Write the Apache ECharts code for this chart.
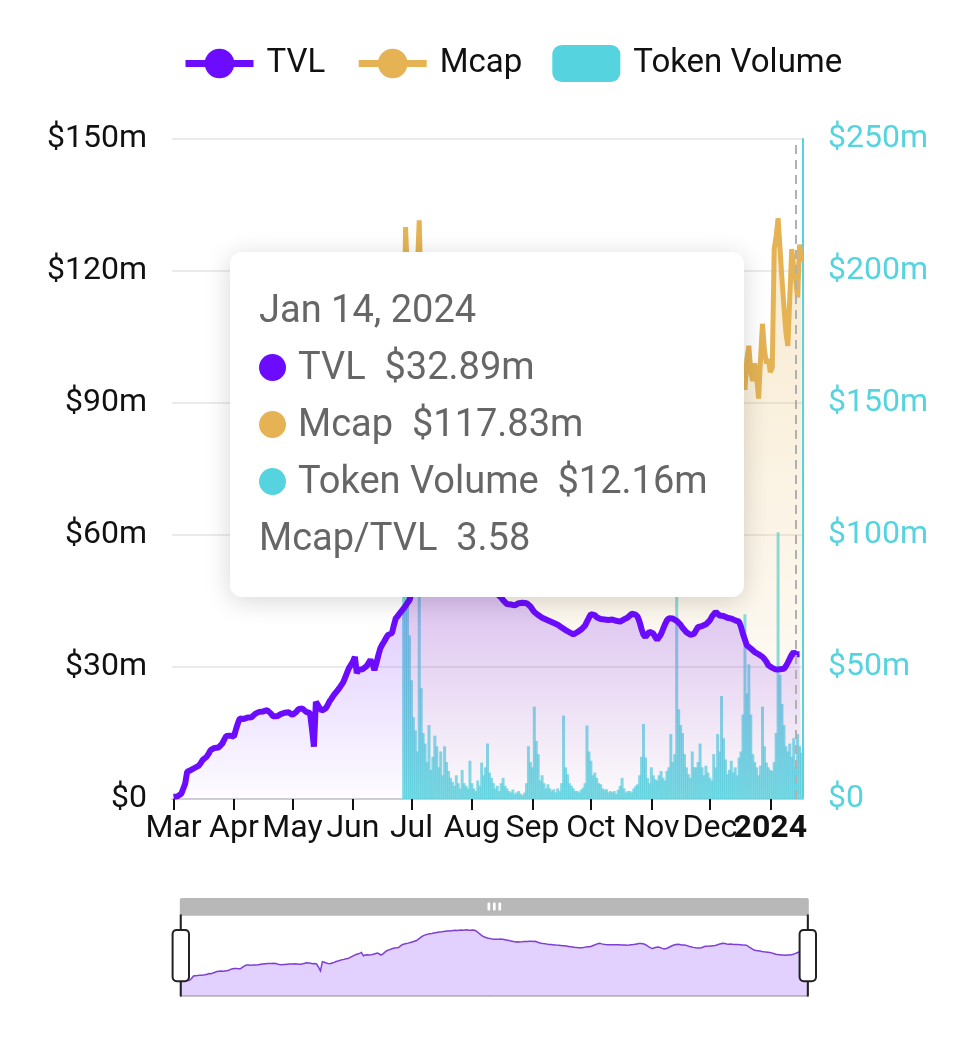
<!DOCTYPE html>
<html>
<head>
<meta charset="utf-8">
<script src="https://cdn.jsdelivr.net/npm/echarts@6/dist/echarts.min.js"></script>
<style>
html,body{margin:0;padding:0;background:#fff;}
#chart{width:973px;height:1038px;}
</style>
</head>
<body>
<div id="chart"></div>
<script>
// ---- data (values in $ millions) ----
const startYear = 2023, startMonth = 2, startDay = 1;   // Mar 1, 2023 = first day
const tokenStartIndex = 118;                              // Jun 27, 2023 = first token day
const tooltipIndex = 319;                                 // Jan 14, 2024
const seriesNames = ['TVL', 'Mcap', 'Token Volume'];
const leftTickLabels = ['$0', '$30m', '$60m', '$90m', '$120m', '$150m'];
const rightTickLabels = ['$0', '$50m', '$100m', '$150m', '$200m', '$250m'];
const monthNames = ['Jan','Feb','Mar','Apr','May','Jun','Jul','Aug','Sep','Oct','Nov','Dec'];

const tvl = [
0.5,0.5,0.6,0.9,1.2,1.4,3.5,6.2,6.4,6.6,
6.9,7.1,7.3,7.6,8.2,8.9,8.7,9.6,10.3,11.1,
11.5,11.6,11.4,11.7,11.9,12.6,13.5,14.3,14.5,14.4,
14.3,14.2,15.8,17.2,18.3,18.4,18.2,18.3,18.5,18.3,
18.6,19.0,19.4,19.6,19.8,20.0,19.9,20.1,20.2,20.1,
19.4,18.8,18.6,18.8,19.0,19.3,19.5,19.6,19.5,19.7,
19.4,19.1,19.3,19.8,20.4,20.8,20.6,20.3,19.8,19.9,
19.5,16.0,11.9,22.1,21.4,20.6,20.1,19.8,20.6,21.3,
22.2,22.8,23.5,24.1,24.6,25.2,25.6,26.5,27.6,28.7,
29.8,30.5,31.2,32.3,28.6,29.4,29.8,29.5,29.7,30.2,
30.9,31.6,30.8,29.3,30.8,32.6,34.2,35.1,35.8,36.6,
37.3,37.4,37.7,39.5,41.1,41.6,42.2,42.6,43.3,43.9,
44.6,45.2,46.8,48.5,50.1,51.2,52.0,52.6,53.1,53.4,
53.8,54.2,54.6,55.0,55.1,55.4,55.8,56.1,56.0,56.3,
56.6,56.8,56.7,57.0,57.2,56.9,57.1,57.3,57.0,56.8,
57.1,56.9,55.6,53.8,52.0,50.3,49.4,48.6,48.0,47.6,
47.2,47.0,46.8,46.9,47.1,46.9,46.6,46.2,45.8,45.2,
44.8,44.3,43.9,44.2,43.8,44.0,44.3,44.5,44.4,44.6,
44.7,44.5,44.6,43.8,43.1,42.5,42.1,41.8,41.5,41.2,
41.0,40.8,40.6,40.4,40.2,40.0,39.8,39.6,39.3,39.0,
38.7,38.4,38.1,37.9,37.6,37.4,37.6,37.9,38.2,38.5,
38.7,39.4,40.3,41.2,42.0,42.4,41.8,41.3,41.0,40.9,
40.9,40.8,40.8,40.7,40.8,40.8,40.6,40.5,40.4,40.3,
40.5,40.8,41.0,41.3,41.7,42.1,42.3,41.9,41.4,40.2,
38.6,37.3,36.8,37.4,38.0,38.4,37.6,36.8,36.2,36.6,
37.5,38.6,39.7,40.6,41.1,41.4,41.0,40.6,40.5,40.3,
39.6,38.9,38.4,37.9,37.5,37.3,37.2,37.6,38.4,39.1,
39.2,39.3,39.5,39.7,39.9,40.6,41.4,42.0,42.5,42.2,
41.7,41.4,41.6,41.3,41.2,41.2,41.0,40.8,40.6,40.4,
40.3,39.1,37.5,36.2,34.9,34.5,34.2,33.8,33.4,33.1,
32.9,32.6,32.3,31.8,31.2,30.4,30.1,29.8,29.5,29.4,
29.3,29.5,29.4,29.6,30.2,31.0,31.9,32.8,33.4,32.89,
33.1,32.9,32.9
];

const mcap = [
100,130,118,110,114,118,116,120,131.5,112,
103,100,98,101,97,94,92,95,91,88,
86,89,87,84,82,85,83,80,78,81,
79,77,75,78,74,72,70,73,71,69,
68,70,67,66,69,68,65,64,66,67,
65,63,64,66,65,62,61,63,64,62,
60,61,63,62,66,68,65,63,62,60,
59,60,58,57,59,58,56,57,58,56,
55,57,60,58,56,55,54,56,57,55,
56,58,57,60,63,61,59,60,62,61,
60,59,61,60,58,59,60,58,57,59,
60,61,62,60,59,61,63,62,60,59,
60,62,64,66,63,62,61,63,62,60,
61,63,65,64,66,68,67,69,70,72,
76,73,71,70,72,71,69,70,72,74,
73,75,76,74,75,77,76,78,80,79,
81,83,82,80,81,83,84,82,84,85,
86,84,88,93,97,93,100,103,97,95,
99,96,91,100,108,102,99,100,97,98,
125,128,132,125,118,112,106,103,114,125,
121,117.83,114,126,122
];

const tokenVolume = [
200,160,120,62,45,31,26,18,92,42,
25,21,14,28,11,16,24,20,12,18,
9,20,14,10.6,8,6.5,5,9,6,4,
11,6,5,4,14.5,6,4,3,7,5,
13.8,9,12,21,10,8,6,4,5,3,
6,8,5,4,3,2.5,3.6,2,2.5,3,
2,1.5,2.4,6,20,14,12,35,22,17,
7,9,6,4,5.6,4,3,3.7,2.5,4,
3,6,31.6,12,9.4,6,5,4,3,3,
2.5,3.5,4.3,6,27.8,18,14.5,9,10,8,
6,5.6,4,3.5,3.7,2.5,3,2.5,3,2,
3.5,5,8,4,2.5,3,3,2.5,4,5,
5.6,9,16,28.4,15.7,8,6,12,9,7.5,
7,9,10.6,8,7,10.6,12,24.6,14,17,
80,34,28,25,17,12,9.4,8,18,12,
12,14,21,12,9,12.6,10,8,7,17,
12,24.6,18,39,23,15,9.4,11,14.5,10,
12,9,15.7,18,32,70,40,51,32,17,
14,12,9,12.6,35,20,13.8,12,11,10.6,
14,25,101,47,36,28,20,18,21,16,
23,12.16,24.6,20,17.6
];

// ---- build ----
const colors = { tvl: '#6b0cff', mcap: '#e5b354', vol: '#55d4e0' };
const dates = tvl.map((_, i) => new Date(startYear, startMonth, startDay + i).getTime());
const tvlData = tvl.map((v, i) => [dates[i], v]);
const mcapData = mcap.map((v, i) => [dates[tokenStartIndex + i], v]);
const volData = tokenVolume.map((v, i) => [dates[tokenStartIndex + i], v]);
const FONT = 'Roboto';

function nearestIndex(t) {
  let best = 0, bd = Infinity;
  for (let i = 0; i < dates.length; i++) { const d = Math.abs(dates[i] - t); if (d < bd) { bd = d; best = i; } }
  return best;
}
function dot(c) {
  return '<span style="display:inline-block;width:27px;height:27px;border-radius:50%;background:' + c + ';margin-right:12px;vertical-align:-2px"></span>';
}

const chart = echarts.init(document.getElementById('chart'), null, { renderer: 'canvas' });
chart.setOption({
  animation: false,
  backgroundColor: '#fff',
  textStyle: { fontFamily: FONT },
  legend: {
    left: 177, top: 40,
    itemWidth: 68, itemHeight: 37, itemGap: 30,
    textStyle: { fontFamily: FONT, fontSize: 33, color: '#111', padding: [0, 0, 0, 8] },
    data: [
      { name: seriesNames[0], lineStyle: { width: 7 } },
      { name: seriesNames[1], lineStyle: { width: 7 } },
      { name: seriesNames[2], itemStyle: { color: colors.vol, opacity: 1 } }
    ]
  },
  grid: { left: 172, right: 170, top: 139, bottom: 239, containLabel: false },
  tooltip: {
    trigger: 'axis',
    triggerOn: 'none',
    alwaysShowContent: true,
    transitionDuration: 0,
    position: [230, 252],
    backgroundColor: '#fff',
    borderWidth: 0,
    padding: [29, 36, 31, 29],
    extraCssText: 'border-radius:12px;box-shadow:0 4px 26px rgba(0,0,0,0.16);',
    axisPointer: {
      type: 'line',
      lineStyle: { color: '#b0b0b0', type: [9, 6], width: 2 },
      label: { show: false }
    },
    formatter: function (params) {
      const i = nearestIndex(params[0].axisValue);
      const d = new Date(dates[i]);
      const j = i - tokenStartIndex;
      const tv = tvl[i], mc = mcap[j], vo = tokenVolume[j];
      const row = s => '<div style="white-space:nowrap">' + s + '</div>';
      return '<div style="font-family:Roboto;font-size:38px;line-height:57px;color:#666;">' +
        row(monthNames[d.getMonth()] + ' ' + d.getDate() + ', ' + d.getFullYear()) +
        row(dot(colors.tvl) + seriesNames[0] + '&nbsp;&nbsp;$' + tv.toFixed(2) + 'm') +
        row(dot(colors.mcap) + seriesNames[1] + '&nbsp;&nbsp;$' + mc.toFixed(2) + 'm') +
        row(dot(colors.vol) + seriesNames[2] + '&nbsp;&nbsp;$' + vo.toFixed(2) + 'm') +
        row('Mcap/TVL&nbsp;&nbsp;' + (mc / tv).toFixed(2)) +
        '</div>';
    }
  },
  xAxis: {
    type: 'time',
    min: new Date(2023, 2, 1).getTime(),
    max: new Date(2024, 0, 17).getTime(),
    splitNumber: 11,
    axisLine: { show: true, lineStyle: { color: '#cfcfcf', width: 2 } },
    axisTick: { show: true, length: 11, lineStyle: { color: '#111', width: 2 } },
    splitLine: { show: false },
    axisLabel: { fontFamily: FONT, fontSize: 32, color: '#111', margin: 14, hideOverlap: false }
  },
  yAxis: [
    {
      type: 'value', min: 0, max: 150, interval: 30, position: 'left',
      axisLine: { show: false }, axisTick: { show: false },
      splitLine: { show: true, lineStyle: { color: '#ebebeb', width: 2 } },
      axisLabel: {
        fontFamily: FONT, fontSize: 32, color: '#111', margin: 25,
        formatter: v => leftTickLabels[Math.round(v / 30)]
      }
    },
    {
      type: 'value', min: 0, max: 250, interval: 50, position: 'right',
      axisLine: { show: true, lineStyle: { color: colors.vol, width: 2 } },
      axisTick: { show: false },
      splitLine: { show: false },
      axisLabel: {
        fontFamily: FONT, fontSize: 32, color: colors.vol, margin: 25,
        formatter: v => rightTickLabels[Math.round(v / 50)]
      }
    }
  ],
  dataZoom: [{
    type: 'slider',
    xAxisIndex: 0,
    left: 173, right: 171, top: 898, height: 82,
    showDetail: false,
    brushSelect: true,
    moveHandleSize: 17,
    moveHandleStyle: { color: '#b8b8b8', opacity: 1 },
    borderColor: '#8f8f8f',
    fillerColor: 'rgba(0,0,0,0)',
    handleSize: '100%',
    handleStyle: { color: '#fff', borderColor: '#222', borderWidth: 2 },
    dataBackground: { lineStyle: { color: '#7d3fd6', width: 1.5, opacity: 1 }, areaStyle: { color: '#e2d0ff', opacity: 1 } },
    selectedDataBackground: { lineStyle: { color: '#7d3fd6', width: 1.5, opacity: 1 }, areaStyle: { color: '#e2d0ff', opacity: 1 } }
  }],
  series: [
    {
      name: seriesNames[0], type: 'line', yAxisIndex: 0, z: 4,
      data: tvlData, symbol: 'none', showSymbol: false,
      color: colors.tvl,
      lineStyle: { color: colors.tvl, width: 6 },
      areaStyle: {
        color: new echarts.graphic.LinearGradient(0, 0, 0, 1, [
          { offset: 0, color: 'rgba(107,12,255,0.38)' },
          { offset: 1, color: 'rgba(107,12,255,0.02)' }
        ])
      },
      emphasis: { disabled: true }
    },
    {
      name: seriesNames[1], type: 'line', yAxisIndex: 0, z: 3,
      data: mcapData, symbol: 'none', showSymbol: false,
      color: colors.mcap,
      lineStyle: { color: colors.mcap, width: 5 },
      areaStyle: {
        color: new echarts.graphic.LinearGradient(0, 0, 0, 1, [
          { offset: 0, color: 'rgba(229,179,84,0.4)' },
          { offset: 1, color: 'rgba(229,179,84,0.03)' }
        ])
      },
      emphasis: { disabled: true }
    },
    {
      name: seriesNames[2], type: 'bar', yAxisIndex: 1, z: 1,
      data: volData, barWidth: 3,
      itemStyle: { color: colors.vol, opacity: 0.75 },
      emphasis: { disabled: true }
    }
  ]
});
chart.dispatchAction({ type: 'showTip', seriesIndex: 0, dataIndex: tooltipIndex });
</script>
</body>
</html>
